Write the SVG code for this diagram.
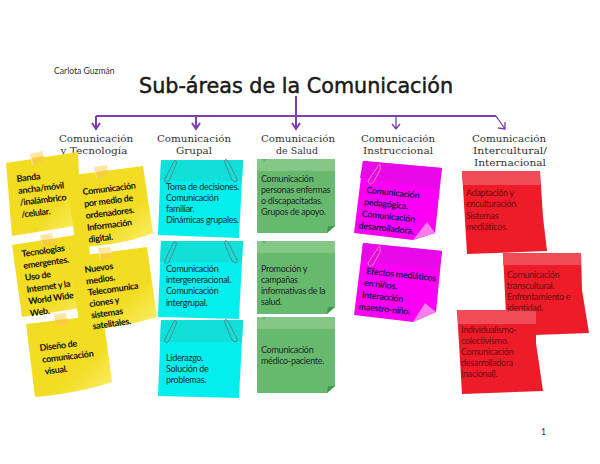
<svg xmlns="http://www.w3.org/2000/svg" width="600" height="464" viewBox="0 0 600 464">
<style>
text{font-family:"Lato","Open Sans","Liberation Sans",sans-serif;font-size:9px;letter-spacing:-.3px;fill:#1c2a2a}
.h{font-family:"DejaVu Serif",serif;font-size:10px;letter-spacing:0;fill:#333;text-anchor:middle}
.y text,text.k{fill:#111;font-weight:700}
text.k{fill:#25105a}
.r{fill:#6d0a14}
.cl{fill:none;stroke:#4f8a92;stroke-width:1}
.tape{fill:#f5c518;opacity:.75}
.tp{fill:#fde6a6}
.cy{fill:#04eeee}.cb{fill:#10e0d8}
.gn{fill:#67b96e}.gb{fill:#84c786}.gf{fill:#3f9a4a}
.mg{fill:#fb00f5}.mb{fill:#e808e8}.mf{fill:#fb7cf0}
.rd{fill:#ed1c28}.rb{fill:#ef4c58}
.con{fill:none;stroke:#7a3fb0;stroke-width:2}
.con2{fill:none;stroke:#7a3fb0;stroke-width:1.3}
</style>
<defs>
<linearGradient id="yl" x1="0" y1="0" x2="1" y2="1"><stop offset="0" stop-color="#f2dc1e"/><stop offset=".65" stop-color="#f2dd25"/><stop offset="1" stop-color="#fdf070"/></linearGradient>
<g id="clipL"><path class="cl" d="M165 179 L173 163 Q175 159 176 161 Q177 163 175 167 L169 181 Q166 184 165 182 Z"/></g>
<g id="clipR"><path class="cl" d="M237 179 L229 163 Q226 158 225 160 Q224 162 226 166 L232 180 Q236 183 237 181 Z"/></g>
</defs>
<text x="54" y="74" style="font-size:8.6px;letter-spacing:0;fill:#333">Carlota Guzmán</text>
<text x="139" y="93" textLength="314" lengthAdjust="spacingAndGlyphs" style="font-family:'DejaVu Sans',sans-serif;font-size:21px;letter-spacing:0;fill:#1a1a1a;stroke:#1a1a1a;stroke-width:.5">Sub-áreas de la Comunicación</text>
<g id="connectors">
<path class="con" d="M296 96V129M96 116H496M96 116V128M196 116V128"/>
<path class="con" d="M92 123L96 129L100 123M192 123L196 129L200 123M292 123L296 129L300 123"/>
<path class="con2" d="M396 116V129M392 124L396 129L400 124M496 116L505 129M498 128L505 129L505 122"/>
</g>
<g id="headers">
<text class="h" x="96" y="142" textLength="74" lengthAdjust="spacingAndGlyphs">Comunicación</text>
<text class="h" x="94" y="154" textLength="67" lengthAdjust="spacingAndGlyphs">y Tecnología</text>
<text class="h" x="194" y="142" textLength="74" lengthAdjust="spacingAndGlyphs">Comunicación</text>
<text class="h" x="194" y="154" textLength="36" lengthAdjust="spacingAndGlyphs">Grupal</text>
<text class="h" x="298" y="142" textLength="74" lengthAdjust="spacingAndGlyphs">Comunicación</text>
<text class="h" x="297" y="154" textLength="42" lengthAdjust="spacingAndGlyphs">de Salud</text>
<text class="h" x="398" y="142" textLength="74" lengthAdjust="spacingAndGlyphs">Comunicación</text>
<text class="h" x="398" y="154" textLength="70" lengthAdjust="spacingAndGlyphs">Instruccional</text>
<text class="h" x="509" y="142" textLength="74" lengthAdjust="spacingAndGlyphs">Comunicación</text>
<text class="h" x="510" y="154" textLength="74" lengthAdjust="spacingAndGlyphs">Intercultural/</text>
<text class="h" x="510" y="166" textLength="72" lengthAdjust="spacingAndGlyphs">Internacional</text>
</g>
<g id="note-y1" class="y"><path fill="url(#yl)" d="M6 163L78 152L81 225L12 236Z"/><path class="tp" d="M30 154L43 151L44 162L32 165Z"/><path class="tape" d="M32 158L44 156L44 162L33 165Z"/>
<g transform="rotate(-7 17 182)"><text x="17" y="182">Banda</text><text x="17" y="194">ancha/móvil</text><text x="17" y="206">/inalámbrico</text><text x="17" y="218">/celular.</text></g></g>
<g id="note-y2" class="y"><path fill="url(#yl)" d="M66 176L143 166L153 233Q120 246 76 247Z"/><path class="tp" d="M94 167L107 165L108 176L96 178Z"/><path class="tape" d="M96 172L108 170L108 176L97 178Z"/>
<g transform="rotate(-7 83 195)"><text x="83" y="195">Comunicación</text><text x="83" y="207">por medio de</text><text x="83" y="219">ordenadores.</text><text x="83" y="231">Información</text><text x="83" y="243">digital.</text></g></g>
<g id="note-y3" class="y"><path fill="url(#yl)" d="M12 245L88 233L94 306L22 317Z"/><path class="tp" d="M40 235L52 233L54 244L42 246Z"/><path class="tape" d="M41 240L53 239L54 245L43 246Z"/>
<g transform="rotate(-8 22 257)"><text x="22" y="257">Tecnologías</text><text x="22" y="269">emergentes.</text><text x="22" y="281">Uso de</text><text x="22" y="293">Internet y la</text><text x="22" y="305">World Wide</text><text x="22" y="317">Web.</text></g></g>
<g id="note-y5" class="y"><path fill="url(#yl)" d="M26 324L103 315L112 382Q80 393 35 397Z"/><path class="tp" d="M54 314L66 313L68 325L56 326Z"/><path class="tape" d="M55 320L67 319L68 325L56 326Z"/>
<g transform="rotate(-7 40 351)"><text x="40" y="351">Diseño de</text><text x="41" y="363">comunicación</text><text x="42" y="375">visual.</text></g></g>
<g id="note-y4" class="y"><path fill="url(#yl)" d="M70 257L147 247L157 317Q125 327 92 329L80 330Z"/><path class="tp" d="M98 248L110 247L112 258L100 260Z"/><path class="tape" d="M100 254L111 253L112 258L101 260Z"/>
<g transform="rotate(-8 85 273)"><text x="85" y="273">Nuevos</text><text x="85" y="284.5">medios.</text><text x="85" y="296">Telecomunica</text><text x="85" y="307.5">ciones y</text><text x="85" y="319">sistemas</text><text x="85" y="330">satelitales.</text></g></g>
<g id="note-c1"><path class="cy" d="M161 160H243L239 238L158 235Z"/><path class="cb" d="M161 160H243L242 181H160Z"/><use href="#clipL"/><use href="#clipR"/>
<text x="166" y="190">Toma de decisiones.</text><text x="166" y="201">Comunicación</text><text x="166" y="212">familiar.</text><text x="166" y="223">Dinámicas grupales.</text></g>
<g id="note-c2"><path class="cy" d="M161 241H243L239 319L158 317Z"/><path class="cb" d="M161 241H243L242 262H160Z"/><use href="#clipL" y="81"/><use href="#clipR" y="81"/>
<text x="166" y="272">Comunicación</text><text x="166" y="283">intergeneracional.</text><text x="166" y="294">Comunicación</text><text x="166" y="306">intergrupal.</text></g>
<g id="note-c3"><path class="cy" d="M161 320H243L239 398L158 396Z"/><path class="cb" d="M161 320H243L242 342H160Z"/><use href="#clipL" y="160"/><use href="#clipR" y="160"/>
<text x="166" y="361">Liderazgo.</text><text x="166" y="372">Solución de</text><text x="166" y="383">problemas.</text></g>
<g id="note-g1"><path class="gn" d="M257 159H335V226L327 233H257Z"/><path class="gb" d="M257 159H262L264 162L267 159H335V171H257Z"/><path class="gf" d="M327 233L335 226H328Z"/>
<text x="261" y="182">Comunicación</text><text x="261" y="193">personas enfermas</text><text x="261" y="204">o discapacitadas.</text><text x="261" y="215">Grupos de apoyo.</text></g>
<g id="note-g2"><path class="gn" d="M257 241H335V307L327 314H257Z"/><path class="gb" d="M257 241H262L264 244L267 241H335V253H257Z"/><path class="gf" d="M327 314L335 307H328Z"/>
<text x="261" y="272">Promoción y</text><text x="261" y="283">campañas</text><text x="261" y="294">informativas de la</text><text x="261" y="305">salud.</text></g>
<g id="note-g3"><path class="gn" d="M257 317H335V386L327 393H257Z"/><path class="gb" d="M257 317H262L264 320L267 317H335V329H257Z"/><path class="gf" d="M327 393L335 386H328Z"/>
<text x="261" y="353">Comunicación</text><text x="261" y="364">médico-paciente.</text></g>
<g id="note-m1"><path class="mg" d="M363 161L442 168L435 233L413 240L354 233Z"/><path class="mb" d="M363 161L442 168L438 188L360 178Z"/><path class="mf" d="M413 240L427 222L435 233Z"/><path fill="none" stroke="#f08ab0" stroke-width="1" d="M368 181L378 166Q381 161 380 170L373 183Q369 186 368 181Z"/>
<g transform="rotate(6 366 193)"><text class="k" x="366" y="193">Comunicación</text><text class="k" x="365" y="205">pedagógica.</text><text class="k" x="364" y="217">Comunicación</text><text class="k" x="362" y="229">desarrolladora.</text></g></g>
<g id="note-m2"><path class="mg" d="M363 243L442 251L436 312L413 322L354 315Z"/><path class="mb" d="M363 243L442 251L439 270L361 260Z"/><path class="mf" d="M413 322L425 303L436 312Z"/><path fill="none" stroke="#f08ab0" stroke-width="1" d="M368 263L378 248Q381 243 380 252L373 265Q369 268 368 263Z"/>
<g transform="rotate(6 366 274)"><text class="k" x="366" y="274">Efectos mediáticos</text><text class="k" x="365" y="286">en niños.</text><text class="k" x="364" y="298">Interacción</text><text class="k" x="362" y="310">maestro-niño.</text></g></g>
<g id="note-r1"><path class="rd" d="M462 171H540L543 217L547 251L467 254Z"/><path class="rb" d="M462 171H540V185H463Z"/>
<text class="r" x="466" y="196">Adaptación y</text><text class="r" x="466" y="207">enculturación.</text><text class="r" x="466" y="219">Sistemas</text><text class="r" x="466" y="230">mediáticos.</text></g>
<g id="note-r2"><path class="rd" d="M503 253H581L582 290L589 333L507 336Z"/><path class="rb" d="M503 253H581V265H503Z"/></g>
<g id="note-r3"><path class="rd" d="M457 310H536V343L543 391L462 394Z"/><path class="rb" d="M457 310H536V324H458Z"/>
<text class="r" x="461" y="333">Individualismo-</text><text class="r" x="461" y="344">colectivismo.</text><text class="r" x="461" y="355">Comunicación</text><text class="r" x="461" y="366">desarrolladora</text><text class="r" x="461" y="377">(nacional).</text></g>
<g id="note-r2-text"><text class="r" x="507" y="278">Comunicación</text><text class="r" x="507" y="289">transcultural.</text><text class="r" x="507" y="300">Enfrentamiento e</text><text class="r" x="507" y="311">identidad.</text></g>
<text x="541" y="435" style="font-size:8.6px;letter-spacing:0;fill:#333">1</text>
</svg>
